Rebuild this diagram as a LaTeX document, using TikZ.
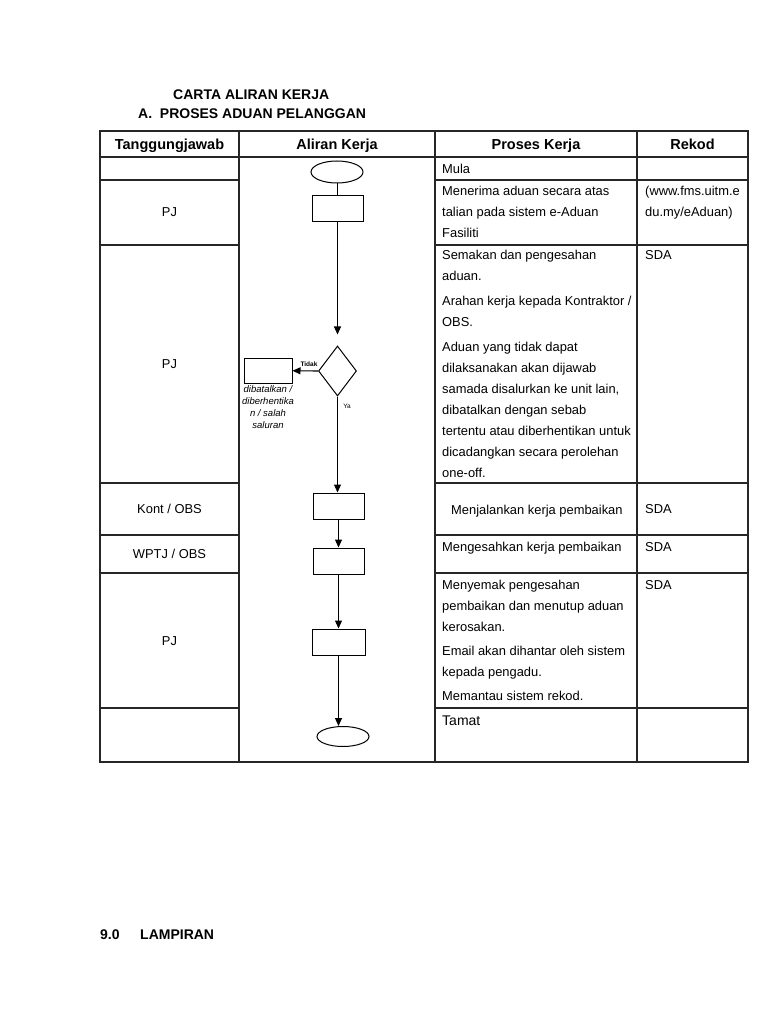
\documentclass[tikz,border=0pt]{standalone}
\usepackage{fontspec}
\setmainfont{Liberation Sans}
\usetikzlibrary{shapes.geometric,arrows.meta}
\begin{document}
\begin{tikzpicture}[x=1pt,y=-1pt,
  grid/.style={line width=1.1pt,black!85},
  flow/.style={line width=1.1pt},
  arr/.style={flow,-{Triangle[length=8pt,width=7pt]}},
  box/.style={draw,line width=1pt,rectangle,inner sep=0,minimum width=51pt,minimum height=26pt},
  oval/.style={draw,line width=1pt,ellipse,inner sep=0,minimum width=52pt,minimum height=22pt},
  txt/.style={anchor=base west,inner sep=0,font=\fontsize{12.9}{15}\selectfont},
  ctxt/.style={anchor=base,inner sep=0,font=\fontsize{12.9}{15}\selectfont},
  hd/.style={anchor=base,inner sep=0,font=\fontsize{14.5}{16}\selectfont\bfseries},
  ttl/.style={anchor=base west,inner sep=0,font=\fontsize{14}{16}\selectfont\bfseries},
  tiny/.style={inner sep=0,font=\fontsize{6.5}{7}\selectfont}
]
\useasboundingbox (0,0) rectangle (768,1024);
\fill[white] (0,0) rectangle (768,1024);

% titles
\node[ttl] (t1) at (173,100) {CARTA ALIRAN KERJA};
\node[ttl] (t2) at (138,119) {A.\ \ PROSES ADUAN PELANGGAN};
\node[ttl] (f1) at (100,939) {9.0};
\node[ttl] (f2) at (140,939) {LAMPIRAN};

% table grid
\draw[grid] (100,131) rectangle (748,762);
\draw[grid] (239,131) -- (239,762);
\draw[grid] (435,131) -- (435,762);
\draw[grid] (637,131) -- (637,762);
\draw[grid] (100,157) -- (748,157);
\foreach \yy in {180,245,483,535,573,708}{
  \draw[grid] (100,\yy) -- (239,\yy);
  \draw[grid] (435,\yy) -- (748,\yy);
}

% headers
\node[hd] (h1) at (169.5,150) {Tanggungjawab};
\node[hd] (h2) at (337,150) {Aliran Kerja};
\node[hd] (h3) at (536,150) {Proses Kerja};
\node[hd] (h4) at (692.5,150) {Rekod};

% column 1
\node[ctxt] (c1a) at (169.5,217) {PJ};
\node[ctxt] (c1b) at (169.5,368) {PJ};
\node[ctxt] (c1c) at (169.5,513.5) {Kont / OBS};
\node[ctxt] (c1d) at (169.5,558.5) {WPTJ / OBS};
\node[ctxt] (c1e) at (169.5,645) {PJ};

% column 3
\node[txt] (p1) at (442,173.5) {Mula};
\node[txt] (p2) at (442,195.5) {Menerima aduan secara atas};
\node[txt] (p3) at (442,216.5) {talian pada sistem e-Aduan};
\node[txt] (p4) at (442,237.5) {Fasiliti};
\node[txt] (p5) at (442,259.5) {Semakan dan pengesahan};
\node[txt] (p6) at (442,280.5) {aduan.};
\node[txt] (p7) at (442,305.5) {Arahan kerja kepada Kontraktor /};
\node[txt] (p8) at (442,326.5) {OBS.};
\node[txt] (p9) at (442,351.5) {Aduan yang tidak dapat};
\node[txt] (p10) at (442,372.5) {dilaksanakan akan dijawab};
\node[txt] (p11) at (442,393.5) {samada disalurkan ke unit lain,};
\node[txt] (p12) at (442,414.5) {dibatalkan dengan sebab};
\node[txt] (p13) at (442,435.5) {tertentu atau diberhentikan untuk};
\node[txt] (p14) at (442,456.5) {dicadangkan secara perolehan};
\node[txt] (p15) at (442,477.5) {one-off.};
\node[txt] (p16) at (451,514) {Menjalankan kerja pembaikan};
\node[txt] (p17) at (442,551.5) {Mengesahkan kerja pembaikan};
\node[txt] (p18) at (442,589.5) {Menyemak pengesahan};
\node[txt] (p19) at (442,610.5) {pembaikan dan menutup aduan};
\node[txt] (p20) at (442,631.5) {kerosakan.};
\node[txt] (p21) at (442,655.5) {Email akan dihantar oleh sistem};
\node[txt] (p22) at (442,676.5) {kepada pengadu.};
\node[txt] (p23) at (442,700.5) {Memantau sistem rekod.};
\node[txt,font=\fontsize{14}{16}\selectfont] (p24) at (442,725) {Tamat};

% column 4
\node[txt] (r1a) at (645,195.5) {(www.fms.uitm.e};
\node[txt] (r1b) at (645,216.5) {du.my/eAduan)};
\node[txt] (r2a) at (645,259.5) {SDA};
\node[txt] (r3a) at (645,513) {SDA};
\node[txt] (r4a) at (645,551.5) {SDA};
\node[txt] (r5a) at (645,589.5) {SDA};

% flow chart
\node[oval] (start) at (337,172) {};
\node[box] (b1) at (337.5,208.5) {};
\node[draw,line width=1pt,diamond,inner sep=0,minimum width=38pt,minimum height=50pt] (dec) at (337.5,371) {};
\node[box,minimum width=48pt,minimum height=25pt] (bx) at (268,370.5) {};
\node[box] (b2) at (338.5,506) {};
\node[box] (b3) at (338.5,561) {};
\node[box,minimum width=53pt] (b4) at (338.5,642) {};
\node[oval,minimum height=20pt] (fin) at (343,736.5) {};

\draw[flow] (start.south -| b1) -- (b1);
\draw[arr,shorten >=11pt] (b1) -- (dec);
\draw[arr] (dec.south) -- (dec.south |- b2.north);
\draw[arr] (b2) -- (b3);
\draw[arr] (b3) -- (b4);
\draw[arr] (b4) -- (b4.south |- fin.north);
\draw[arr] (dec.west) -- (bx);

\node[tiny,font=\fontsize{6.5}{7}\selectfont\bfseries] (ltid) at (309,364) {Tidak};
\node[tiny] (lya) at (347,406) {Ya};
\node[inner sep=0,align=center,font=\fontsize{9.5}{12}\selectfont\itshape] (note) at (268,407.5) {dibatalkan /\\diberhentika\\n / salah\\saluran};
\end{tikzpicture}
\end{document}
